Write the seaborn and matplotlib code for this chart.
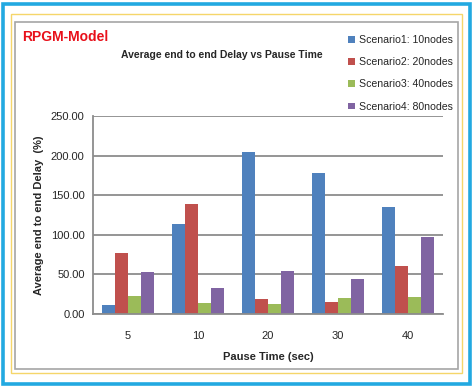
import matplotlib
matplotlib.use("Agg")
import matplotlib.pyplot as plt
from matplotlib.patches import Rectangle
import pandas as pd
import seaborn as sns

# Data
pause_times = ["5", "10", "20", "30", "40"]
scenarios = ["Scenario1: 10nodes", "Scenario2: 20nodes", "Scenario3: 40nodes", "Scenario4: 80nodes"]
s1 = [11.5, 113.2, 204.3, 178.0, 135.4]
s2 = [76.4, 138.9, 19.5, 15.2, 60.0]
s3 = [23.3, 13.9, 12.7, 20.7, 22.0]
s4 = [52.8, 33.4, 53.7, 44.3, 96.7]
colors = ["#4F81BD", "#C0504D", "#9BBB59", "#8064A2"]

rows = []
for name, vals in zip(scenarios, [s1, s2, s3, s4]):
    for t, v in zip(pause_times, vals):
        rows.append({"Pause Time": t, "Scenario": name, "Delay": v})
df = pd.DataFrame(rows)

sns.set_style("white")
plt.rcParams['font.family'] = ['Liberation Sans', 'DejaVu Sans']

fig = plt.figure(figsize=(4.74, 3.89), dpi=100)
W, H = 474, 389

def frame(x0, y0, x1, y1, color, lw):
    fig.patches.append(Rectangle((x0 / W, 1 - y1 / H), (x1 - x0) / W, (y1 - y0) / H,
                                 transform=fig.transFigure, fill=False,
                                 edgecolor=color, linewidth=lw, zorder=0))

frame(3, 4, 470, 384, "#22A9E1", 2.6)
frame(11, 14, 462, 373, "#F5D66A", 1.0)
frame(15, 22, 458, 369, "#A6A6A6", 1.2)

ax = fig.add_axes([93 / W, 1 - 314 / H, (443 - 93) / W, (314 - 116) / H])
sns.barplot(data=df, x="Pause Time", y="Delay", hue="Scenario", order=pause_times,
            hue_order=scenarios, palette=colors, width=0.74, gap=0, saturation=1,
            linewidth=0, ax=ax, legend=True)

ax.set_ylim(0, 250)
ax.set_xlim(-0.5, 4.5)
ax.set_yticks([0, 50, 100, 150, 200, 250])
ax.set_yticklabels([f"{v:.2f}" for v in [0, 50, 100, 150, 200, 250]], fontsize=8)
ax.yaxis.grid(True, color="#8C8C8C", linewidth=1.3)
ax.set_axisbelow(True)
for side in ["top", "right"]:
    ax.spines[side].set_visible(False)
ax.spines["left"].set_color("#8C8C8C")
ax.spines["bottom"].set_color("#8C8C8C")
ax.spines["left"].set_linewidth(1.3)
ax.spines["bottom"].set_linewidth(1.3)

# category boundary ticks
ax.set_xticks([i - 0.5 for i in range(6)], minor=False)
ax.set_xticklabels([])
ax.set_xticks(range(5), minor=True)
ax.set_xticklabels(pause_times, minor=True, fontsize=8)
ax.tick_params(axis="x", which="major", length=4, color="#8C8C8C", width=1.2)
ax.tick_params(axis="x", which="minor", length=0, pad=12)
ax.tick_params(axis="y", length=4, color="#8C8C8C", width=1.2, pad=2)

ax.set_xlabel("Pause Time (sec)", fontsize=8, fontweight="bold", labelpad=8)
ax.set_ylabel("Average end to end Delay  (%)", fontsize=8, fontweight="bold", labelpad=5)

fig.text(222 / W, 1 - 55 / H, "Average end to end Delay vs Pause Time", fontsize=7.5,
         fontweight="bold", ha="center", va="center")
fig.text(22 / W, 1 - 37 / H, "RPGM-Model", fontsize=10, fontweight="bold",
         color="#E8101A", ha="left", va="center")

leg = ax.legend(loc="upper left", bbox_to_anchor=(344 / W, 1 - 31 / H),
                bbox_transform=fig.transFigure, frameon=False, fontsize=7.6,
                handlelength=0.6, handleheight=0.6, handletextpad=0.4,
                labelspacing=1.15, borderaxespad=0)

fig.savefig("out.png", dpi=100)
